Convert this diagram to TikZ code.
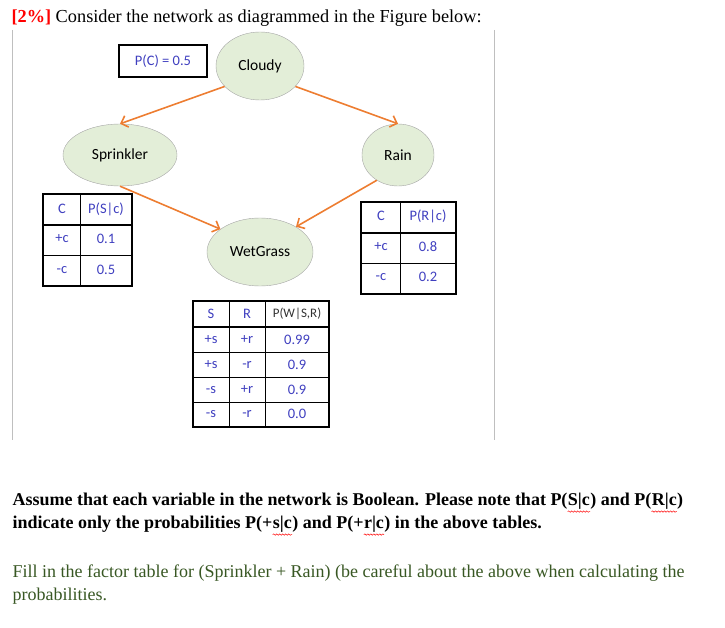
\documentclass[tikz,border=0pt]{standalone}
\usepackage{fontspec}
\setmainfont{Liberation Serif}
\newfontfamily\carl{Carlito}
\usetikzlibrary{arrows.meta,decorations.pathmorphing,shapes.geometric}
\definecolor{nodefill}{HTML}{E3EED8}
\definecolor{tblue}{HTML}{3F3FBF}
\definecolor{arr}{HTML}{ED7D31}
\definecolor{tgreen}{HTML}{385723}
\newcommand\wavy[1]{\tikz[baseline=(wv.base)]{\node[inner sep=0pt](wv){#1};\draw[red,line width=0.5pt,decorate,decoration={snake,amplitude=0.7pt,segment length=3pt}]([yshift=-1.5pt]wv.south west)--([yshift=-1.5pt]wv.south east);}}
\begin{document}
\begin{tikzpicture}[x=1pt,y=-1pt,
  bn/.style={ellipse,draw=gray!70,fill=nodefill,font=\carl\fontsize{15.5}{17}\selectfont,inner sep=0},
  ar/.style={draw=arr,line width=1.6pt,-{Straight Barb[length=6pt,width=12pt]}},
  tb/.style={font=\carl\fontsize{14.5}{16}\selectfont,text=tblue}]
\useasboundingbox (0,0) rectangle (725,628);
\node[anchor=west,font=\fontsize{18.3}{20}\selectfont] (title) at (8,18) {\textcolor{red}{\textbf{[2\%]}} Consider the network as diagrammed in the Figure below:};
\draw[gray!50,line width=0.8pt] (12,30) -- (12,440) (494,30) -- (494,440);
% P(C)
\node[draw,line width=1.2pt,minimum width=88,minimum height=32,tb] (pc) at (163,61) {P(C) = 0.5};
% nodes
\node[bn,minimum width=88,minimum height=68] (c) at (260,66) {Cloudy};
\node[bn,minimum width=114,minimum height=62] (s) at (120,155) {Sprinkler};
\node[bn,minimum width=72,minimum height=62] (r) at (398,155) {Rain};
\node[bn,minimum width=106,minimum height=68] (w) at (260,252) {WetGrass};
\draw[ar] (c.-150) -- (s.north);
\draw[ar] (c.-30) -- (r.north);
\draw[ar] (s.south) -- (w.150);
\draw[ar] (r.-130) -- (w.35);
% P(S|c) table
\draw[line width=1.5pt] (43,194) rectangle (132,286);
\draw[line width=1.5pt] (43,225) -- (132,225);
\draw[line width=0.8pt] (43,255) -- (132,255) (80,194) -- (80,286);
\node[tb] (s1) at (62,209) {C}; \node[tb] (s2) at (106,209) {P(S|c)};
\node[tb] (s3) at (62,239) {+c}; \node[tb] (s4) at (106,239) {0.1};
\node[tb] (s5) at (62,270) {-c}; \node[tb] (s6) at (106,270) {0.5};
% P(R|c) table
\draw[line width=1.5pt] (361,202) rectangle (456,294);
\draw[line width=1.5pt] (361,233) -- (456,233);
\draw[line width=0.8pt] (361,263) -- (456,263) (400,202) -- (400,294);
\node[tb] (r1) at (381,216) {C}; \node[tb] (r2) at (428,216) {P(R|c)};
\node[tb] (r3) at (381,247) {+c}; \node[tb] (r4) at (428,247) {0.8};
\node[tb] (r5) at (381,277) {-c}; \node[tb] (r6) at (428,277) {0.2};
% P(W|S,R) table
\draw[line width=1.5pt] (193,301) rectangle (329,427);
\draw[line width=1.5pt] (193,327) -- (329,327);
\draw[line width=0.8pt] (193,352) -- (329,352) (193,377) -- (329,377) (193,402) -- (329,402) (229,301) -- (229,427) (265,301) -- (265,427);
\node[tb] (w1) at (211,314) {S}; \node[tb] (w2) at (247,314) {R}; \node[tb,text=black!80,font=\carl\fontsize{13}{15}\selectfont] (w3) at (297,314) {P(W|S,R)};
\node[tb] (w4) at (211,340) {+s}; \node[tb] (w5) at (247,340) {+r}; \node[tb] (w6) at (297,340) {0.99};
\node[tb] (w7) at (211,365) {+s}; \node[tb] (w8) at (247,365) {-r}; \node[tb] (w9) at (297,365) {0.9};
\node[tb] (w10) at (211,390) {-s}; \node[tb] (w11) at (247,390) {+r}; \node[tb] (w12) at (297,390) {0.9};
\node[tb] (w13) at (211,414) {-s}; \node[tb] (w14) at (247,414) {-r}; \node[tb] (w15) at (297,414) {0.0};
% bottom text
\node[anchor=west,font=\bfseries\fontsize{18}{20}\selectfont] (t1) at (9,503) {Assume that each variable in the network is Boolean. Please note that P(\wavy{S|c}) and P(\wavy{R|c})};
\node[anchor=west,font=\bfseries\fontsize{18}{20}\selectfont] (t2) at (9,526) {indicate only the probabilities P(+\wavy{s|c}) and P(+\wavy{r|c}) in the above tables.};
\node[anchor=west,text=tgreen,font=\fontsize{18}{20}\selectfont] (t3) at (9,573) {Fill in the factor table for (Sprinkler + Rain) (be careful about the above when calculating the};
\node[anchor=west,text=tgreen,font=\fontsize{18}{20}\selectfont] (t4) at (9,596) {probabilities.};
\end{tikzpicture}
\end{document}
